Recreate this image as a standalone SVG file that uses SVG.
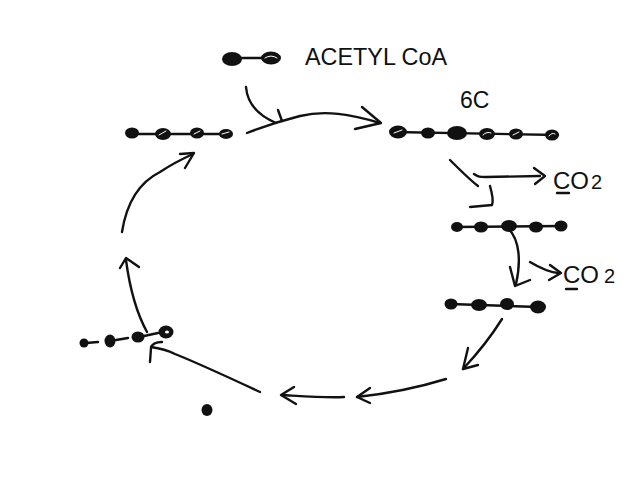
<svg xmlns="http://www.w3.org/2000/svg" width="640" height="480" viewBox="0 0 640 480">
<style>
.ln{fill:none;stroke:#111;stroke-width:2.4;stroke-linecap:round;stroke-linejoin:round}
.bond{fill:none;stroke:#111;stroke-width:2.4;stroke-linecap:round}
.d{fill:#111}
.hl{fill:none;stroke:#fff;stroke-width:1;stroke-linecap:round}
.t{font-family:"Liberation Sans",Arial,sans-serif;fill:#111}
</style>
<rect width="640" height="480" fill="#fff"/>

<g id="acetyl-coa">
  <line class="bond" x1="232" y1="58" x2="262" y2="58"/>
  <ellipse class="d" cx="232" cy="59" rx="10" ry="7"/>
  <ellipse class="d" cx="271" cy="58" rx="10" ry="6.5"/>
  <path class="hl" d="M265 58 Q271 54 277 58"/>
  <text class="t" x="305" y="65" font-size="24" textLength="142" lengthAdjust="spacingAndGlyphs">ACETYL CoA</text>
</g>

<g id="four-carbon-top">
  <line class="bond" x1="130" y1="134" x2="228" y2="134"/>
  <ellipse class="d" cx="132" cy="133" rx="7" ry="5.5"/>
  <ellipse class="d" cx="163" cy="134" rx="8" ry="6"/>
  <path class="hl" d="M159 135 L166 131"/>
  <ellipse class="d" cx="197" cy="133" rx="7" ry="5.5"/>
  <path class="hl" d="M194 134 L200 131"/>
  <ellipse class="d" cx="226" cy="134" rx="7" ry="5"/>
  <path class="hl" d="M222 134 L229 132"/>
</g>

<g id="six-carbon">
  <text class="t" x="460" y="108" font-size="23">6C</text>
  <line class="bond" x1="394" y1="132" x2="558" y2="135"/>
  <ellipse class="d" cx="398" cy="132" rx="9" ry="6.5"/>
  <path class="hl" d="M394 133 L402 130"/>
  <ellipse class="d" cx="428" cy="133" rx="7" ry="5.5"/>
  <ellipse class="d" cx="457" cy="133" rx="10" ry="7"/>
  <ellipse class="d" cx="487" cy="134" rx="8" ry="6"/>
  <path class="hl" d="M483 135 Q487 131 491 133"/>
  <ellipse class="d" cx="516" cy="134" rx="7" ry="5.5"/>
  <path class="hl" d="M513 135 L519 132"/>
  <ellipse class="d" cx="552" cy="135" rx="7" ry="5.5"/>
  <path class="hl" d="M549 136 Q552 132 555 134"/>
</g>

<g id="co2-a">
  <text class="t" x="553" y="189" font-size="24">CO<tspan font-size="20" dx="2">2</tspan></text>
  <line class="bond" x1="557" y1="193" x2="569" y2="193"/>
</g>

<g id="five-carbon">
  <line class="bond" x1="456" y1="227" x2="562" y2="226"/>
  <ellipse class="d" cx="457" cy="227" rx="6" ry="5"/>
  <ellipse class="d" cx="481" cy="227" rx="7" ry="5.5"/>
  <ellipse class="d" cx="509" cy="226" rx="8" ry="6"/>
  <ellipse class="d" cx="536" cy="227" rx="7" ry="5.5"/>
  <ellipse class="d" cx="561" cy="226" rx="6.5" ry="5.5"/>
</g>

<g id="co2-b">
  <text class="t" x="563" y="283" font-size="24">CO<tspan font-size="20" dx="5">2</tspan></text>
  <line class="bond" x1="566" y1="289" x2="577" y2="289"/>
</g>

<g id="four-carbon-right">
  <line class="bond" x1="450" y1="304" x2="538" y2="307"/>
  <ellipse class="d" cx="451" cy="304" rx="6.5" ry="5.5"/>
  <ellipse class="d" cx="479" cy="305" rx="8" ry="6"/>
  <ellipse class="d" cx="507" cy="304" rx="7" ry="6"/>
  <ellipse class="d" cx="538" cy="307" rx="8" ry="6.5"/>
</g>

<g id="four-carbon-left">
  <path class="bond" d="M86 343 L98 342 M116 340 L128 338 M144 336 L158 333"/>
  <ellipse class="d" cx="84" cy="343" rx="4.5" ry="4.5"/>
  <ellipse class="d" cx="110" cy="341" rx="5.5" ry="6.5"/>
  <ellipse class="d" cx="138" cy="337" rx="6.5" ry="5.5"/>
  <ellipse class="d" cx="166" cy="332" rx="7.5" ry="6.5"/>
  <ellipse fill="#fff" cx="167" cy="332" rx="2" ry="1.6"/>
</g>

<g id="single-carbon">
  <ellipse class="d" cx="207" cy="410" rx="5.5" ry="6"/>
</g>

<g id="connectors">
  <path class="ln" d="M246 87 C247 100 255 114 276 123"/>
  <path class="ln" d="M278 110 L282 121"/>
  <path class="ln" d="M247 133 C265 126 280 121 300 116 C325 110 350 114 380 123"/>
  <path class="ln" d="M362 107 L381 123 L355 129"/>
  <path class="ln" d="M450 160 C460 170 470 180 478 186"/>
  <path class="ln" d="M490 186 C492 193 494 200 492 205 L470 207"/>
  <path class="ln" d="M474 174 C478 177 480 177 486 177 L540 176"/>
  <path class="ln" d="M534 168 L545 176 L535 184"/>
  <path class="ln" d="M508 228 C520 240 521 262 516 284"/>
  <path class="ln" d="M510 267 L515 286 L530 280"/>
  <path class="ln" d="M530 262 C540 268 548 272 558 273"/>
  <path class="ln" d="M550 265 L561 273 L549 280"/>
  <path class="ln" d="M502 319 C492 335 478 353 463 369"/>
  <path class="ln" d="M468 348 L463 369 L478 365"/>
  <path class="ln" d="M446 379 C420 387 385 394 357 397"/>
  <path class="ln" d="M370 388 L357 397 L370 403"/>
  <path class="ln" d="M344 397 C325 398 300 396 282 395"/>
  <path class="ln" d="M294 387 L281 395 L296 404"/>
  <path class="ln" d="M260 392 C230 378 195 362 175 354 C165 349 158 348 151 347"/>
  <path class="ln" d="M162 342 C156 342 152 344 151 348 L150 362"/>
  <path class="ln" d="M147 332 C136 312 130 290 126 260"/>
  <path class="ln" d="M120 268 L126 258 L139 267"/>
  <path class="ln" d="M122 232 C127 200 140 182 160 172 C172 164 182 159 193 154"/>
  <path class="ln" d="M180 154 L194 153 L185 168"/>
</g>
</svg>
